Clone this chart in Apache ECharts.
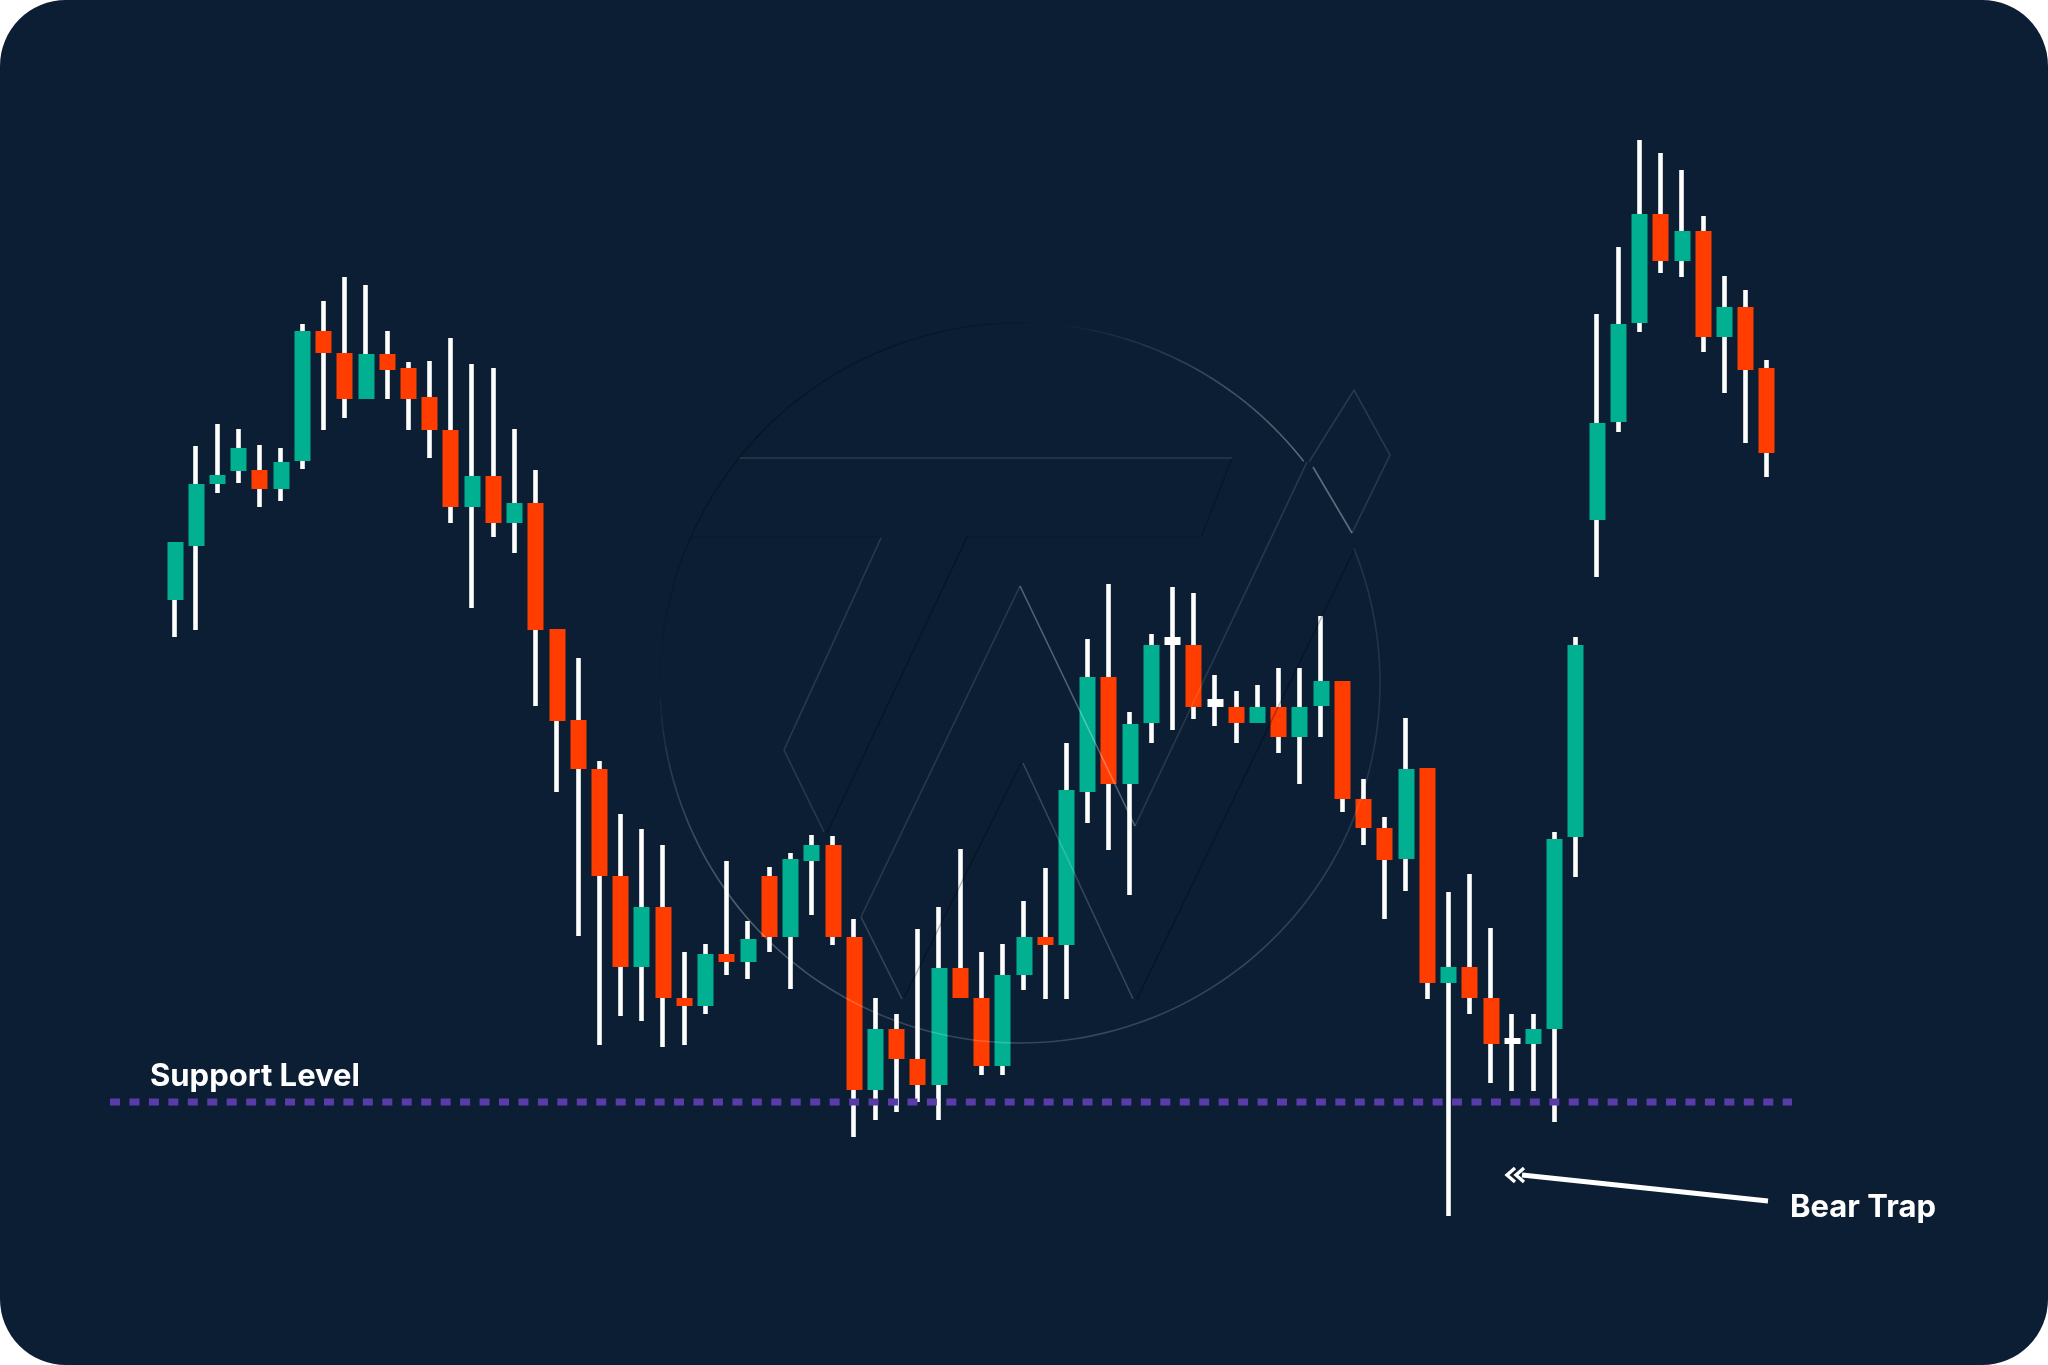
<!DOCTYPE html>
<html>
<head>
<meta charset="utf-8">
<title>Bear Trap</title>
<style>
  html, body { margin: 0; padding: 0; background: #ffffff; }
  #chart { width: 2048px; height: 1365px; }
</style>
<script src="https://cdn.jsdelivr.net/npm/echarts@6/dist/echarts.min.js"></script>
</head>
<body>
<div id="chart"></div>
<script>
const opens = [765,819,881,894,895,876,904,1034,1012,966,1011,997,968,935,858,889,842,862,736,645,596,489,398,458,367,359,411,403,489,428,504,520,428,275,336,306,280,397,367,299,390,428,420,573,688,581,642,720,720,658,658,642,658,628,659,684,566,537,506,597,382,398,367,321,321,336,528,845,943,1042,1151,1104,1134,1028,1058,997]
const closes = [823,881,890,917,876,903,1034,1012,966,1011,995,966,935,858,889,842,862,735,644,596,489,398,458,367,359,411,403,426,428,506,520,428,275,336,306,280,397,367,299,390,428,420,575,688,581,641,720,728,658,666,642,658,628,658,684,566,537,505,596,382,398,367,321,327,336,526,720,942,1041,1151,1104,1134,1028,1058,995,912]
const lows = [728,735,872,882,858,864,896,935,947,966,966,935,907,842,757,828,812,659,573,429,320,349,344,318,320,351,390,386,413,376,450,420,228,245,253,263,245,367,290,290,375,366,366,542,515,470,622,635,646,639,622,642,612,581,628,553,520,446,474,366,149,351,282,274,274,243,488,788,933,1033,1092,1088,1013,972,922,888]
const highs = [823,919,941,936,920,917,1041,1064,1088,1080,1034,1003,1004,1027,1001,997,936,895,736,707,604,551,536,520,413,421,504,444,498,512,530,529,446,367,351,436,458,516,413,421,464,497,622,726,781,653,731,778,772,690,674,680,697,697,749,684,586,548,647,597,473,491,437,351,351,533,728,1051,1118,1225,1212,1195,1149,1089,1075,1005]
const categories = opens.map((v, i) => String(i + 1))
// the three little white candles
const whiteCandles = [47, 49, 63]

const supportLevel = 263
const supportFrom = 110
const supportTo = 1792

const upColor = "#00b091"
const downColor = "#ff3d00"
const panelColor = "#0b1e33"
const bandWidth = 21.226

const wickData = opens.map((o, i) => [o, closes[i], lows[i], highs[i]])
const bodyData = opens.map((o, i) => {
  const value = [o, closes[i], Math.min(o, closes[i]), Math.max(o, closes[i])]
  if (whiteCandles.indexOf(i) > -1) {
    return { value, itemStyle: { color: "#ffffff", borderColor: "#ffffff" } }
  }
  return value
})

// faint logo behind the candles
const light = a => "rgba(255,255,255," + a + ")"
const dark = a => "rgba(0,0,0," + a + ")"
const logoLines = [
  [[[739, 458], [1232, 458]], light(0.12)],
  [[[1232, 458], [1202, 535]], dark(0.22)],
  [[[1202, 537], [968, 537]], dark(0.1)],
  [[[690, 537], [879, 537]], dark(0.1)],
  [[[881, 538], [784, 750], [824, 832]], light(0.12)],
  [[[968, 535], [827, 833]], dark(0.28)],
  [[[861, 917], [1020, 586]], light(0.12)],
  [[[1020, 586], [1135, 826]], light(0.3)],
  [[[1135, 826], [1307, 462]], light(0.12)],
  [[[861, 917], [902, 999]], light(0.18)],
  [[[904, 998], [1021, 763]], dark(0.28)],
  [[[1023, 763], [1133, 999]], light(0.18)],
  [[[1137, 999], [1355, 548]], dark(0.28)],
  [[[1309, 462], [1354, 390], [1390, 455], [1352, 533]], light(0.12)],
  [[[1352, 533], [1313, 467]], light(0.35)]
]
// angle in degrees, opacity: above zero is white, below zero is black
const arcStops = [
  [-142, -0.28], [-100, -0.2], [-85, 0], [-70, 0.1], [-38, 0.34]
]
const arcStopsRight = [
  [-22, 0.1], [12, 0.1], [50, 0.18], [90, 0.18], [115, 0.18], [140, 0.3], [170, 0.1], [180, 0], [190, -0.1], [218, -0.28]
]

const graphic = [
  { type: "rect", z: -10, silent: true, shape: { x: 0, y: 0, width: 2048, height: 1365, r: 66 }, style: { fill: panelColor } }
]
logoLines.forEach(l => {
  graphic.push({ type: "polyline", z: 10, silent: true, shape: { points: l[0] }, style: { stroke: l[1], lineWidth: 1.6, fill: null } })
})
// fade the ring by cutting it into short pieces between the stops
const pushArc = stops => {
  for (let s = 0; s < stops.length - 1; s++) {
    const a = stops[s], b = stops[s + 1]
    const steps = Math.ceil((b[0] - a[0]) / 3)
    for (let k = 0; k < steps; k++) {
      const t = (k + 0.5) / steps
      const alpha = a[1] + (b[1] - a[1]) * t
      const from = a[0] + (b[0] - a[0]) * k / steps
      const to = a[0] + (b[0] - a[0]) * (k + 1) / steps
      graphic.push({
        type: "arc", z: 10, silent: true,
        shape: { cx: 1020, cy: 683, r: 360, startAngle: from * Math.PI / 180, endAngle: to * Math.PI / 180, clockwise: true },
        style: { stroke: alpha >= 0 ? light(alpha) : dark(-alpha), lineWidth: 1.6, fill: null }
      })
    }
  }
}
pushArc(arcStops)
pushArc(arcStopsRight)
// arrow and labels
graphic.push(
  { type: "polyline", z: 20, shape: { points: [[1522, 1175], [1768, 1201]] }, style: { stroke: "#ffffff", lineWidth: 5, fill: null } },
  { type: "polyline", z: 20, shape: { points: [[1515, 1168], [1507, 1175], [1515, 1182]] }, style: { stroke: "#ffffff", lineWidth: 3.4, fill: null } },
  { type: "polyline", z: 20, shape: { points: [[1524, 1168], [1516, 1175], [1524, 1182]] }, style: { stroke: "#ffffff", lineWidth: 3.4, fill: null } },
  { type: "text", z: 20, style: { text: "Support Level", x: 150, y: 1061, fill: "#ffffff", font: "700 31px Inter" } },
  { type: "text", z: 20, style: { text: "Bear Trap", x: 1790, y: 1192, fill: "#ffffff", font: "700 31px Inter" } }
)

const chart = echarts.init(document.getElementById("chart"), null, { renderer: "canvas" })
chart.setOption({
  animation: false,
  backgroundColor: "transparent",
  tooltip: { show: false },
  grid: [
    { left: 175 - bandWidth / 2, width: bandWidth * opens.length, top: 0, bottom: 0 },
    { left: 0, right: 0, top: 0, bottom: 0 }
  ],
  xAxis: [
    { type: "category", gridIndex: 0, data: categories, show: false },
    { type: "value", gridIndex: 1, min: 0, max: 2048, show: false }
  ],
  yAxis: [
    { type: "value", gridIndex: 0, min: 0, max: 1365, show: false },
    { type: "value", gridIndex: 1, min: 0, max: 1365, show: false }
  ],
  graphic,
  series: [
    {
      name: "wicks",
      type: "candlestick",
      xAxisIndex: 0,
      yAxisIndex: 0,
      barWidth: 1,
      z: 2,
      data: wickData,
      itemStyle: { color: "#ffffff", color0: "#ffffff", borderColor: "#ffffff", borderColor0: "#ffffff", borderWidth: 4.6 }
    },
    {
      name: "bodies",
      type: "candlestick",
      xAxisIndex: 0,
      yAxisIndex: 0,
      barWidth: 16.5,
      z: 3,
      data: bodyData,
      itemStyle: { color: upColor, color0: downColor, borderColor: upColor, borderColor0: downColor, borderWidth: 0 }
    },
    {
      name: "Support Level",
      type: "line",
      xAxisIndex: 1,
      yAxisIndex: 1,
      symbol: "none",
      z: 4,
      data: [[supportFrom, supportLevel], [supportTo, supportLevel]],
      lineStyle: { color: "#5a3ca8", width: 7, type: [10, 9.45] }
    }
  ]
})
</script>
</body>
</html>
